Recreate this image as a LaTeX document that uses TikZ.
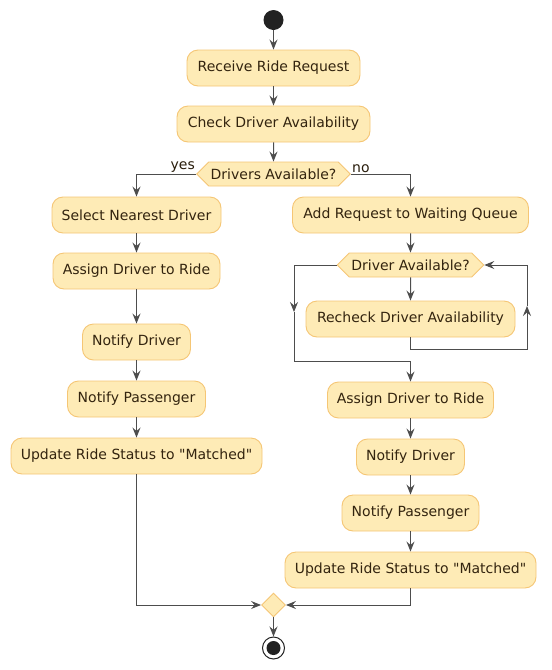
\documentclass[tikz,border=0pt]{standalone}
\usepackage{fontspec}
\setmainfont{DejaVu Sans}[Ligatures=TeXOff]
\usetikzlibrary{shapes.geometric,shapes.symbols,arrows.meta}
\definecolor{actfill}{HTML}{FEEBB6}
\definecolor{actdraw}{HTML}{F5C675}
\definecolor{acttext}{HTML}{33240F}
\definecolor{linec}{HTML}{4D4D4D}
\definecolor{dotc}{HTML}{222222}
\tikzset{
  act/.style={draw=actdraw, fill=actfill, line width=0.9pt, rounded corners=11pt,
    minimum height=36pt, inner sep=0pt, text=acttext, font=\fontsize{14}{15}\selectfont},
  hexa/.style={signal, signal to=west and east, signal pointer angle=90, draw=actdraw, fill=actfill,
    line width=0.9pt, minimum height=24pt, inner sep=0pt, inner xsep=2pt, text=acttext, font=\fontsize{14}{15}\selectfont},
  merge/.style={diamond, draw=actdraw, fill=actfill, line width=0.9pt, minimum width=24pt, minimum height=24pt, inner sep=0pt},
  flow/.style={draw=linec, line width=1pt, -{Stealth[length=10pt,width=8pt,inset=3.5pt]}},
  guard/.style={text=acttext!80!black, font=\fontsize{14}{15}\selectfont, inner sep=1pt}
}
\begin{document}
\begin{tikzpicture}[x=1pt,y=-1pt]
\useasboundingbox (0,0) rectangle (552,670);
% start
\node[circle, fill=dotc, minimum size=20pt, inner sep=0pt] (start) at (273.5,20) {};
\node[act, minimum width=173pt] (recv) at (273.5,68) {Receive Ride Request};
\node[act, minimum width=193pt] (check) at (273.5,124) {Check Driver Availability};
\node[hexa, minimum width=150pt] (dec1) at (273.5,174) {Drivers Available?};
% left branch
\node[act, minimum width=169pt] (sel) at (136.5,215) {Select Nearest Driver};
\node[act, minimum width=167pt] (asg1) at (136.5,271) {Assign Driver to Ride};
\node[act, minimum width=108pt] (nd1) at (136.5,342) {Notify Driver};
\node[act, minimum width=138pt] (np1) at (136.5,399) {Notify Passenger};
\node[act, minimum width=251pt] (up1) at (136.5,456) {Update Ride Status to "Matched"};
% right branch
\node[act, minimum width=236pt] (addq) at (410.5,215) {Add Request to Waiting Queue};
\node[hexa, minimum width=142pt] (dec2) at (410.5,265) {Driver Available?};
\node[act, minimum width=209pt] (rch) at (410.5,319) {Recheck Driver Availability};
\node[act, minimum width=166pt] (asg2) at (410.5,400) {Assign Driver to Ride};
\node[act, minimum width=108pt] (nd2) at (410.5,457) {Notify Driver};
\node[act, minimum width=137pt] (np2) at (410.5,513) {Notify Passenger};
\node[act, minimum width=251pt] (up2) at (410.5,570) {Update Ride Status to "Matched"};
% merge and end
\node[merge] (mrg) at (273.5,605) {};
\node[circle, draw=dotc, fill=white, line width=1pt, minimum size=22pt, inner sep=0pt] (stop) at (273.5,648) {};
\node[circle, fill=dotc, minimum size=14pt, inner sep=0pt] (stopin) at (273.5,648) {};
% coordinates
\coordinate (lloop) at (294,312);
\coordinate (lbot) at (294,361);
\coordinate (rloopb) at (527,349);
\coordinate (rloop) at (527,306);
% connectors
\draw[flow] (start) -- (recv);
\draw[flow] (recv) -- (check);
\draw[flow] (check) -- (dec1);
\draw[flow] (dec1.west) -| (sel.north);
\draw[flow] (dec1.east) -| (addq.north);
\node[guard, anchor=south east] at (dec1.west) {yes};
\node[guard, anchor=south west] at (dec1.east) {no};
\draw[flow] (sel) -- (asg1);
\draw[flow] (asg1) -- (nd1);
\draw[flow] (nd1) -- (np1);
\draw[flow] (np1) -- (up1);
\draw[flow] (addq) -- (dec2);
\draw[flow] (dec2) -- (rch);
\draw[flow] (rch.south) |- (rloopb) -- (rloop);
\draw[flow] (rloop) |- (dec2.east);
\draw[flow] (dec2.west) -| (lloop);
\draw[flow] (lloop) -- (lbot) -| (asg2.north);
\draw[flow] (asg2) -- (nd2);
\draw[flow] (nd2) -- (np2);
\draw[flow] (np2) -- (up2);
\draw[flow] (up1.south) |- (mrg.west);
\draw[flow] (up2.south) |- (mrg.east);
\draw[flow] (mrg) -- (stop);
\end{tikzpicture}
\end{document}
